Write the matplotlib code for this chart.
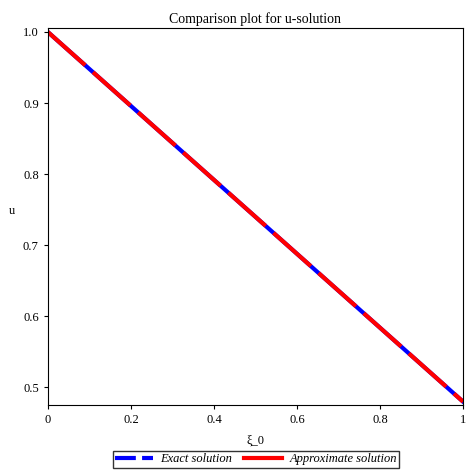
import matplotlib.pyplot as plt
import numpy as np

plt.rcParams["font.family"] = ["Liberation Serif", "DejaVu Serif"]

xi = [0.0, 1.0]
u_exact = [1.0, 0.48]
u_approx = [1.0, 0.48]

x_ticks = [0, 0.2, 0.4, 0.6, 0.8, 1]
x_labels = ["0", "0.2", "0.4", "0.6", "0.8", "1"]
y_ticks = [0.5, 0.6, 0.7, 0.8, 0.9, 1.0]

fig = plt.figure(figsize=(4.74, 4.74), dpi=100)
ax = fig.add_axes([0.101, 0.145, 0.876, 0.795])

ax.plot(xi, u_exact, color="#0000ff", lw=3, label="Exact solution")
ax.plot(xi, u_approx, color="#ff0000", lw=3, dashes=(12, 2.5), label="Approximate solution")

ax.set_xlim(0, 1)
ax.set_ylim(0.475, 1.005)
ax.set_xticks(x_ticks)
ax.set_xticklabels(x_labels)
ax.set_yticks(y_ticks)
ax.set_yticklabels([f"{v:.1f}" for v in y_ticks])
ax.tick_params(labelsize=9, length=3)
ax.set_title("Comparison plot for u-solution", fontsize=10, pad=4)
ax.set_xlabel("ξ_0", fontsize=9, labelpad=6)
ax.set_ylabel("u", fontsize=9, rotation=0, labelpad=8)

handles = [
    plt.Line2D([], [], color="#0000ff", lw=3, dashes=(5, 1.5)),
    plt.Line2D([], [], color="#ff0000", lw=3),
]
leg = fig.legend(handles, ["Exact solution", "Approximate solution"],
                 loc="lower center", bbox_to_anchor=(0.54, 0.0), ncol=2,
                 frameon=True, fancybox=False, edgecolor="black",
                 prop={"style": "italic", "size": 9}, handlelength=3,
                 borderpad=0.2, columnspacing=1.0, handletextpad=0.6)

fig.savefig("out.png", dpi=100)
